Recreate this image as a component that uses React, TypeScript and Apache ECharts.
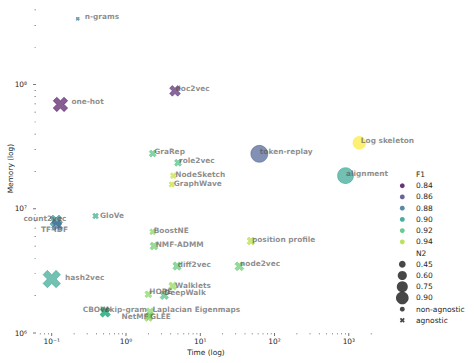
import React, { useEffect, useRef } from "react";
import * as echarts from "echarts";

// ---------- data ----------
const methods = [
  "n-grams", "one-hot", "doc2vec", "GraRep", "role2vec", "NodeSketch", "GraphWave",
  "token-replay", "Log skeleton", "alignment", "count2vec", "TF-IDF", "GloVe", "hash2vec",
  "BoostNE", "NMF-ADMM", "diff2vec", "Walklets", "HOPE", "DeepWalk", "CBOW", "skip-gram",
  "Laplacian Eigenmaps", "NetMF", "GLEE", "position profile", "node2vec",
];
const timeSec = [
  0.224, 0.131, 4.57, 2.29, 5.02, 4.34, 4.13,
  62.4, 1386, 903, 0.114, 0.118, 0.389, 0.1,
  2.29, 2.38, 4.87, 4.26, 2.0, 3.28, 0.523, 0.525,
  2.11, 2.01, 2.07, 48.2, 33.6,
];
const memory = [
  3.39e8, 6.93e7, 8.91e7, 2.79e7, 2.35e7, 1.85e7, 1.57e7,
  2.77e7, 3.4e7, 1.85e7, 7.97e6, 7.4e6, 8.75e6, 2.72e6,
  6.53e6, 5.01e6, 3.46e6, 2.39e6, 2.05e6, 2.01e6, 1.48e6, 1.47e6,
  1.48e6, 1.33e6, 1.37e6, 5.5e6, 3.44e6,
];
const f1 = [
  0.882, 0.84, 0.846, 0.92, 0.918, 0.944, 0.943,
  0.869, 0.955, 0.903, 0.892, 0.875, 0.909, 0.904,
  0.932, 0.926, 0.923, 0.934, 0.932, 0.918, 0.91, 0.912,
  0.932, 0.934, 0.93, 0.941, 0.925,
];
const n2 = [
  0.3, 0.76, 0.54, 0.386, 0.39, 0.356, 0.342,
  0.944, 0.647, 0.867, 0.607, 0.553, 0.348, 0.98,
  0.356, 0.42, 0.44, 0.42, 0.386, 0.44, 0.505, 0.505,
  0.42, 0.42, 0.39, 0.42, 0.46,
];
const agnostic = [
  true, true, true, true, true, true, true,
  false, false, false, true, true, true, true,
  true, true, true, true, true, true, true, true,
  true, true, true, true, true,
];

const f1LegendTicks = [0.84, 0.86, 0.88, 0.9, 0.92, 0.94];
const n2LegendTicks = [0.45, 0.6, 0.75, 0.9];
const styleLegend = ["non-agnostic", "agnostic"];

const xMajorTicks = [0.1, 1, 10, 100, 1000];
const yMajorTicks = [1e6, 1e7, 1e8];

// ---------- layout (label nudges from marker centre, px) ----------
const labelOffsets: Record<string, [number, number]> = {
  "n-grams": [7, -2.5],
  "one-hot": [11, -2.5],
  "doc2vec": [0.5, -2],
  "GraRep": [1.5, -1.6],
  "role2vec": [1, -2.4],
  "NodeSketch": [2, -1],
  "GraphWave": [2, -0.6],
  "token-replay": [0.5, -2],
  "Log skeleton": [1.5, -2],
  "alignment": [0.5, -2],
  "count2vec": [-32.5, -2.7],
  "TF-IDF": [-16, 4.3],
  "GloVe": [4.5, -1],
  "hash2vec": [13.3, -1.3],
  "BoostNE": [1, -1.7],
  "NMF-ADMM": [1.7, -2],
  "diff2vec": [0.7, -2],
  "Walklets": [2.3, -1],
  "HOPE": [1, -2.6],
  "DeepWalk": [-0.3, -2.6],
  "CBOW": [-22.3, -2.4],
  "skip-gram": [0, -2.4],
  "Laplacian Eigenmaps": [2.3, -2.4],
  "NetMF": [-27, -0.8],
  "GLEE": [0.5, 0.7],
  "position profile": [1, -1.3],
  "node2vec": [0.7, -2.6],
};

const XMIN = 0.0614, XMAX = 2323, YMIN = 1e6, YMAX = 4.45e8;
const GRID = { left: 36, top: 4.1, width: 340, height: 328.9, containLabel: false, outerBoundsMode: "none" };
const FONT = "DejaVu Sans";
const ALPHA = 0.8;
const lg = Math.log10;

const VIRIDIS = ["#440154", "#482475", "#414487", "#355f8d", "#2a788e", "#21918c", "#22a884", "#44bf70", "#7ad151", "#bddf26", "#fde725"];
function hex(h: string) { return [1, 3, 5].map((i) => parseInt(h.slice(i, i + 2), 16)); }
function viridis(t: number, a: number) {
  t = Math.max(0, Math.min(1, t));
  const p = t * (VIRIDIS.length - 1);
  const i = Math.min(Math.floor(p), VIRIDIS.length - 2);
  const f = p - i;
  const c0 = hex(VIRIDIS[i]), c1 = hex(VIRIDIS[i + 1]);
  const c = c0.map((v, k) => Math.round(v + (c1[k] - v) * f));
  return `rgba(${c[0]},${c[1]},${c[2]},${a})`;
}
const fMin = Math.min(...f1), fMax = Math.max(...f1);
const colorOf = (v: number, a = ALPHA) => viridis((v - fMin) / (fMax - fMin), a);
const nMin = Math.min(...n2);
const sizeOf = (v: number) => Math.sqrt(12 + 430 * (v - nMin));
const LEGEND_SCALE = 0.77;

const X_PATH = "path://M3,0L4,1L3,2L4,3L3,4L2,3L1,4L0,3L1,2L0,1L1,0L2,1Z";
const X_PTS = [[3, 0], [4, 1], [3, 2], [4, 3], [3, 4], [2, 3], [1, 4], [0, 3], [1, 2], [0, 1], [1, 0], [2, 1]];

const SUP: Record<string, string> = { "-": "\u207b", "0": "\u2070", "1": "\u00b9", "2": "\u00b2", "3": "\u00b3", "4": "\u2074", "5": "\u2075", "6": "\u2076", "7": "\u2077", "8": "\u2078", "9": "\u2079" };
// axis values are log10 exponents; only whole decades get a label
const powLabel = (e: number) => {
  const r = Math.round(e);
  if (Math.abs(e - r) > 1e-6) return "";
  return "10" + String(r).split("").map((c) => SUP[c]).join("");
};

function minorTicks(lo: number, hi: number) {
  const out: number[] = [];
  for (let e = Math.floor(lg(lo)); e <= Math.ceil(lg(hi)); e++) {
    for (let k = 2; k <= 9; k++) {
      const v = k * Math.pow(10, e);
      if (v > lo && v < hi) out.push(v);
    }
  }
  return out;
}

export default function App() {
  const ref = useRef<HTMLDivElement>(null);
  useEffect(() => {
    document.body.style.margin = "0";
    if (!ref.current) return;
    const chart = echarts.init(ref.current, undefined, { renderer: "svg" });

    const points = methods.map((name, i) => {
      const c = colorOf(f1[i]);
      return {
        name,
        value: [lg(timeSec[i]), lg(memory[i])],
        symbol: agnostic[i] ? X_PATH : "circle",
        symbolSize: sizeOf(n2[i]),
        itemStyle: { color: c, borderColor: c, borderWidth: 0.7 },
      };
    });

    // legend graphics
    const lx = 402.3, tx = 416, y0 = 174.5, dy = 11.22;
    const g: any[] = [];
    let row = 0;
    const addText = (txt: string, y: number) =>
      g.push({ type: "text", x: tx, y, style: { text: txt, font: `7.5px "${FONT}"`, fill: "#262626", verticalAlign: "middle", align: "left" } });
    addText("F1", y0 + dy * row++);
    f1LegendTicks.forEach((v) => {
      const y = y0 + dy * row++;
      g.push({ type: "circle", shape: { cx: lx, cy: y, r: 2.4 }, style: { fill: colorOf(v) } });
      addText(v.toFixed(2), y);
    });
    addText("N2", y0 + dy * row++);
    n2LegendTicks.forEach((v) => {
      const y = y0 + dy * row++;
      g.push({ type: "circle", shape: { cx: lx, cy: y, r: (sizeOf(v) * LEGEND_SCALE) / 2 }, style: { fill: "rgba(51,51,51,0.9)" } });
      addText(v.toFixed(2), y);
    });
    styleLegend.forEach((s, k) => {
      const y = y0 + dy * row++;
      if (k === 0) g.push({ type: "circle", shape: { cx: lx, cy: y, r: 2.4 }, style: { fill: "rgba(51,51,51,0.9)" } });
      else {
        const sz = 5;
        g.push({ type: "polygon", shape: { points: X_PTS.map(([px, py]) => [lx + ((px - 2) / 4) * sz, y + ((py - 2) / 4) * sz]) }, style: { fill: "rgba(51,51,51,0.9)" } });
      }
      addText(s, y);
    });

    const tickSeries = (data: number[][], size: number[], offset: number[], color: string) => ({
      type: "scatter",
      data,
      symbol: "rect",
      symbolSize: size,
      symbolOffset: offset,
      itemStyle: { color },
      silent: true,
      clip: false,
      z: 1,
      emphasis: { disabled: true },
    });

    const axisLabel = { fontFamily: FONT, fontSize: 7.4, color: "#262626", formatter: powLabel };
    const nameStyle = { fontFamily: FONT, fontSize: 7.4, color: "#262626" };

    chart.setOption({
      animation: false,
      grid: GRID,
      xAxis: {
        type: "value",
        min: lg(XMIN),
        max: lg(XMAX),
        splitNumber: 5,
        axisLine: { show: false },
        axisTick: { show: false },
        splitLine: { show: false },
        axisLabel: { ...axisLabel, margin: 4.5, showMinLabel: false, showMaxLabel: false },
        name: "Time (log)",
        nameLocation: "middle",
        nameGap: 16,
        nameMoveOverlap: false,
        nameTextStyle: nameStyle,
      },
      yAxis: {
        type: "value",
        min: lg(YMIN),
        max: lg(YMAX),
        interval: 1,
        axisLine: { show: false },
        axisTick: { show: false },
        splitLine: { show: false },
        axisLabel: { ...axisLabel, margin: 9, showMinLabel: true, showMaxLabel: false },
        name: "Memory (log)",
        nameLocation: "middle",
        nameGap: 22,
        nameMoveOverlap: false,
        nameTextStyle: nameStyle,
      },
      series: [
        tickSeries(xMajorTicks.map((v) => [lg(v), lg(YMIN)]), [0.8, 3], [0, 1.5], "#262626"),
        tickSeries(minorTicks(XMIN, XMAX).map((v) => [lg(v), lg(YMIN)]), [0.7, 1.6], [0, 0.8], "#555"),
        tickSeries(yMajorTicks.map((v) => [lg(XMIN), lg(v)]), [3, 0.8], [-1.5, 0], "#262626"),
        tickSeries(minorTicks(YMIN, YMAX).map((v) => [lg(XMIN), lg(v)]), [1.6, 0.7], [-0.8, 0], "#555"),
        {
          type: "scatter",
          data: points,
          clip: false,
          z: 3,
          emphasis: { disabled: true },
          label: {
            show: true,
            position: "inside",
            align: "left",
            verticalAlign: "middle",
            formatter: (p: any) => p.name,
            fontFamily: FONT,
            fontWeight: "bold",
            fontSize: 7.4,
            color: "rgba(85,85,85,0.85)",
          },
          labelLayout: (params: any) => {
            const off = labelOffsets[methods[params.dataIndex]] || [0, 0];
            return { dx: off[0], dy: off[1], hideOverlap: false };
          },
        },
      ],
      graphic: g,
    });
    return () => chart.dispose();
  }, []);
  return <div ref={ref} style={{ width: 474, height: 363 }} />;
}
